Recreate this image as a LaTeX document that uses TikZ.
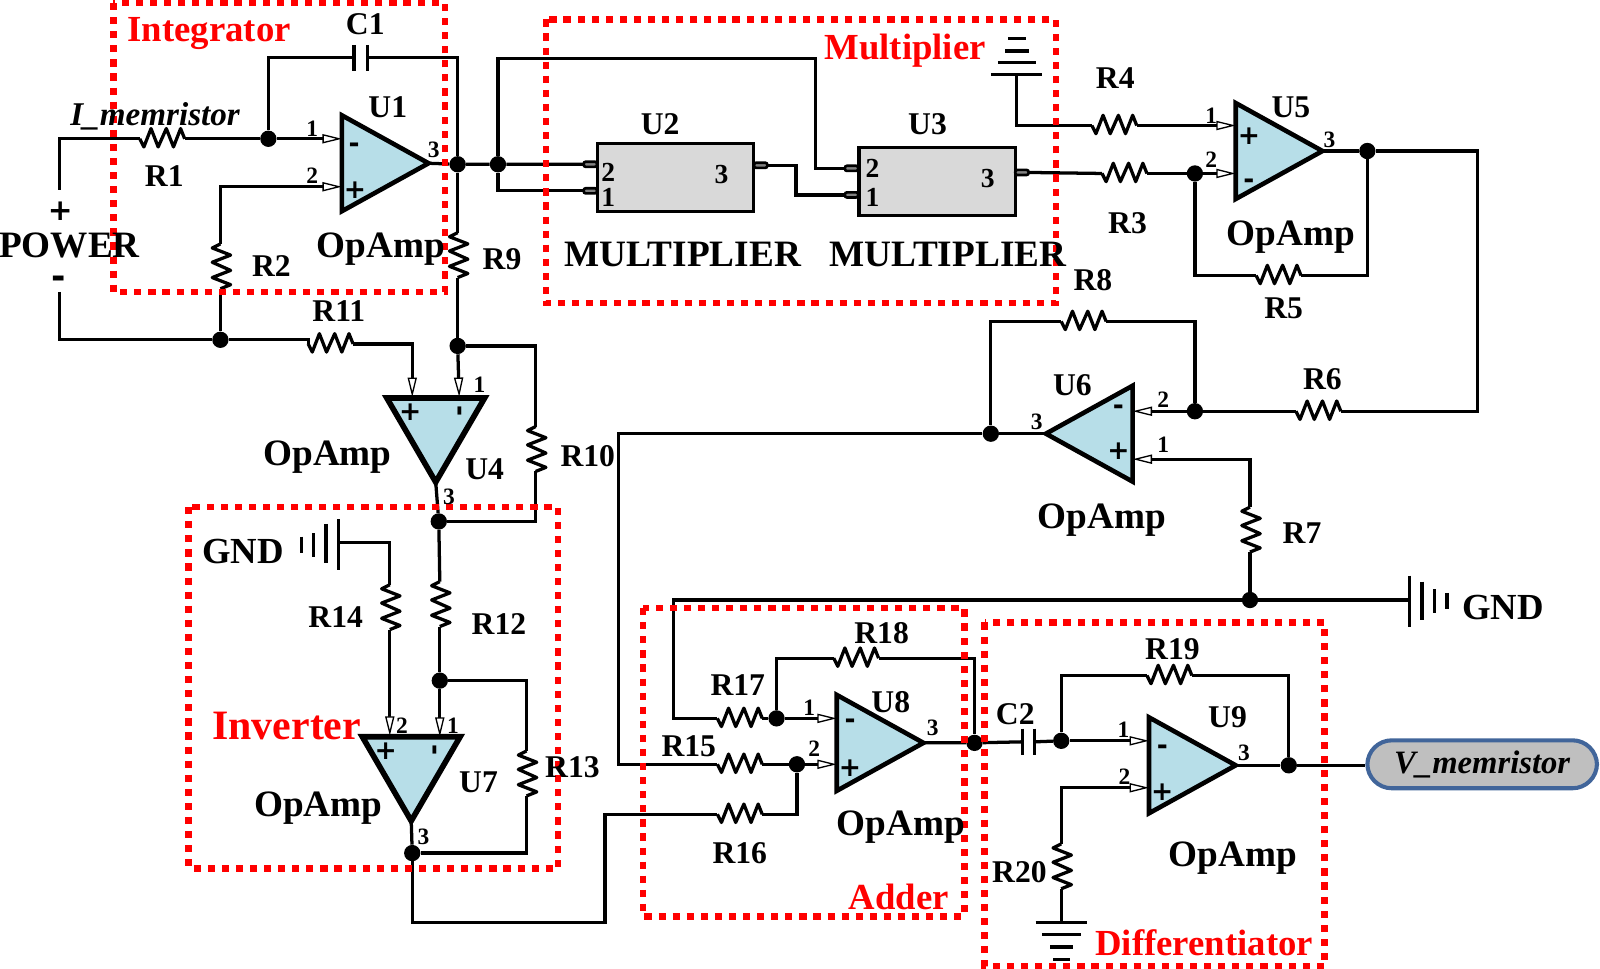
\documentclass[tikz,border=0pt]{standalone}
\usepackage{fontspec}
\setmainfont{Liberation Serif}
\newfontfamily\signfont{DejaVu Sans}
\usetikzlibrary{arrows.meta}
\definecolor{opfill}{HTML}{B7DEE8}
\definecolor{chipfill}{HTML}{D9D9D9}
\definecolor{pillfill}{HTML}{BFBFBF}
\definecolor{pillline}{HTML}{41659A}
\definecolor{redbox}{HTML}{FF0000}
\tikzset{
  x=1pt,y=-1pt,
  wire/.style={line width=3.2pt,line join=miter},
  arrwire/.style={wire,-{Triangle[open,fill=white,length=19pt,width=9pt,line width=1.3pt]}},
  dot/.style={circle,fill=black,inner sep=0pt,minimum size=16pt},
  lbl/.style={font=\bfseries\fontsize{31}{31}\selectfont,inner sep=0pt},
  oplbl/.style={font=\bfseries\fontsize{36.5}{36.5}\selectfont,inner sep=0pt},
  biglbl/.style={font=\bfseries\fontsize{36.5}{36.5}\selectfont,inner sep=0pt},
  pinlbl/.style={font=\bfseries\fontsize{23}{23}\selectfont,inner sep=0pt},
  chiplbl/.style={font=\bfseries\fontsize{27}{27}\selectfont,inner sep=0pt},
  redlbl/.style={font=\bfseries\fontsize{36}{36}\selectfont,inner sep=0pt,text=redbox},
  pluslbl/.style={font=\signfont\bfseries\fontsize{26}{26}\selectfont,inner sep=0pt},
  minuslbl/.style={font=\signfont\bfseries\fontsize{26}{26}\selectfont,inner sep=0pt},
  groupbox/.style={draw=redbox,line width=6.5pt,dash pattern=on 7pt off 6.8pt},
  chip/.style={draw=black,line width=3pt,fill=chipfill,inner sep=0pt},
  pinbox/.style={draw=black,line width=2.6pt,fill=chipfill!60!black,rounded corners=2pt},
  opn/.style={line width=4.5pt},
  opd/.style={line width=5.5pt,xscale=.97,yscale=1.02},
  resH/.pic={
    \coordinate (-l) at (-22,0);
    \coordinate (-r) at (22,0);
    \draw[wire,line join=round] (-l) -- (-18,8) -- (-11,-10) -- (-4,8) -- (4,-10) -- (11,8) -- (18,-10) -- (-r);
  },
  opamp/.pic={
    \coordinate (-a) at (0,-24);
    \coordinate (-b) at (0,24);
    \coordinate (-o) at (85,0);
    \draw[draw=black,fill=opfill,line join=miter] (0,-47) -- (85,0) -- (0,47) -- cycle;
  },
}
\begin{document}
\begin{tikzpicture}
\useasboundingbox (0,0) rectangle (1568,949.6);

% amplifiers
\pic[opn] (U1) at (335,160) {opamp};
\pic[opn] (U5) at (1211,148) {opamp};
\pic[opn,rotate=180] (U6) at (1110,425) {opamp};
\pic[rotate=-90,opd] (U4) at (427,390) {opamp};
\pic[rotate=-90,opd] (U7) at (403,722) {opamp};
\pic[opn] (U8) at (820,728) {opamp};
\pic[opn] (U9) at (1126,750) {opamp};

% resistors
\pic (R1) at (159,136) {resH};
\pic[rotate=-90] (R2) at (216,261) {resH};
\pic (R3) at (1102,170) {resH};
\pic (R4) at (1092,123) {resH};
\pic (R5) at (1253,270) {resH};
\pic (R6) at (1292,403) {resH};
\pic[rotate=-90] (R7) at (1225,519) {resH};
\pic (R8) at (1062,315) {resH};
\pic[rotate=-90] (R9) at (448.5,250) {resH};
\pic[rotate=-90] (R10) at (525,440) {resH};
\pic (R11) at (324,337) {resH};
\pic[rotate=-90] (R12) at (431,592) {resH};
\pic[rotate=-90] (R13) at (516,758) {resH};
\pic[rotate=-90] (R14) at (382,595) {resH};
\pic (R15) at (725,749) {resH};
\pic (R16) at (725,798) {resH};
\pic (R17) at (725,704) {resH};
\pic (R18) at (839,645) {resH};
\pic (R19) at (1146,662) {resH};
\pic[rotate=-90] (R20) at (1040,849) {resH};

% junctions
\node[dot] (j1) at (263,136) {};
\node[dot] (j2) at (448.5,161) {};
\node[dot] (j3) at (488,161) {};
\node[dot] (j4) at (216,333) {};
\node[dot] (j5) at (448.5,339) {};
\node[dot] (j6) at (430,511) {};
\node[dot] (j7) at (431,667) {};
\node[dot] (j8) at (404,836) {};
\node[dot] (j9) at (1171,170) {};
\node[dot] (j10) at (1340,148) {};
\node[dot] (j11) at (1171,403) {};
\node[dot] (j12) at (971,425) {};
\node[dot] (j13) at (1225,588) {};
\node[dot] (j14) at (761,704) {};
\node[dot] (j15) at (781,749) {};
\node[dot] (j16) at (955,728) {};
\node[dot] (j17) at (1040,726) {};
\node[dot] (j18) at (1263,750) {};

% multiplier chips
\node[chip,minimum width=153pt,minimum height=66pt] (U2box) at (662.3,174) {};
\node[chip,minimum width=153pt,minimum height=66pt] (U3box) at (918.3,178) {};
\coordinate (u2a) at (572,161);
\coordinate (u2b) at (572,187);
\coordinate (u2o) at (752,162);
\coordinate (u3a) at (828,165);
\coordinate (u3b) at (828,191);
\coordinate (u3o) at (1008,169);

% terminals
\coordinate (pwrp) at (58,186);
\coordinate (pwrm) at (58,286);
\coordinate (c1l) at (347,56);
\coordinate (c1r) at (360,56);
\coordinate (c2l) at (1002,727);
\coordinate (c2r) at (1014,727);
\coordinate (gt) at (996,73);
\coordinate (gr) at (1381,588);
\coordinate (gl) at (332,532);
\coordinate (gb) at (1040,904);
\node[draw=pillline,line width=4pt,fill=pillfill,rounded corners=24pt,minimum width=225pt,minimum height=47pt,inner sep=0pt,font=\bfseries\itshape\fontsize{32}{32}\selectfont] (vm) at (1452.5,749) {\raisebox{-3pt}{V\_memristor}};

% wires
\draw[wire] (pwrp) |- (R1-l);
\draw[wire] (R1-r) -- (j1);
\draw[arrwire] (j1) -- (335,136);
\draw[wire] (j1) |- (c1l);
\draw[wire] (c1r) -| (j2);
\draw[wire] (j2) -- (R9-l);
\draw[wire] (R9-r) -- (j5);
\draw[wire] (U1-o) -- (j2) -- (j3) -- (u2a);
\draw[wire] (j3) |- (u2b);
\draw[wire] (j3) |- (799,57.5) |- (u3a);
\draw[wire] (u2o) -| (780,175) |- (u3b);
\draw[wire] (u3o) -- (R3-l);
\draw[wire] (R3-r) -- (j9);
\draw[arrwire] (j9) -- (1211,170);
\draw[wire] (gt) |- (R4-l);
\draw[arrwire] (R4-r) -- (1211,123);
\draw[wire] (j9) |- (R5-l);
\draw[wire] (R5-r) -| (j10);
\draw[wire] (U5-o) -- (j10) -| (1448,300) |- (R6-r);
\draw[wire] (R6-l) -- (j11);
\draw[arrwire] (j11) -- (1110,403);
\draw[wire] (j11) |- (R8-r);
\draw[wire] (R8-l) -| (j12);
\draw[wire] (U6-o) -- (j12) -- (606,425) |- (R15-l);
\draw[wire] (R15-r) -- (j15);
\draw[arrwire] (j15) -- (820,749);
\draw[arrwire] (R7-l) |- (1110,450);
\draw[wire] (R7-r) -- (j13);
\draw[wire] (gr) -- (j13) -- (660,588) |- (R17-l);
\draw[wire] (R17-r) -- (j14);
\draw[arrwire] (j14) -- (820,704);
\draw[wire] (j14) |- (R18-l);
\draw[wire] (R18-r) -| (j16);
\draw[wire] (U8-o) -- (j16) -- (c2l);
\draw[wire] (c2r) -- (j17);
\draw[arrwire] (j17) -- (1126,726);
\draw[wire] (j17) |- (R19-l);
\draw[wire] (R19-r) -| (j18);
\draw[wire] (U9-o) -- (j18) -- (vm.west |- j18);
\draw[arrwire] (R20-l) |- (1126,772);
\draw[wire] (R20-r) -- (gb);
\draw[wire] (j15) |- (R16-r);
\draw[wire] (R16-l) -| (593,904) -| (j8);
\draw[wire] (U7-o) -- (j8);
\draw[wire] (j8) -| (R13-r);
\draw[wire] (R13-l) |- (j7);
\draw[wire] (j6) -- (R12-l);
\draw[wire] (R12-r) -- (j7);
\draw[arrwire] (j7) -- (431,722);
\draw[wire] (U4-o) -- (j6);
\draw[wire] (j6) -| (R10-r);
\draw[wire] (R10-l) |- (j5);
\draw[arrwire] (j5) -- (450,389);
\draw[wire] (pwrm) |- (j4);
\draw[wire] (j4) -- (R2-r);
\draw[arrwire] (R2-l) |- (335,183);
\draw[wire] (j4) -- (302,333) -- (R11-l);
\draw[arrwire] (R11-r) -| (404,389);
\draw[wire] (gl) -| (R14-l);
\draw[arrwire] (R14-r) -- (382,721);

% pins of chips
\draw[pinbox] (572,158.5) rectangle (585,163.5);
\draw[pinbox] (572,184.5) rectangle (585,189.5);
\draw[pinbox] (739,159.5) rectangle (752,164.5);
\draw[pinbox] (828,162.5) rectangle (841,167.5);
\draw[pinbox] (828,188.5) rectangle (841,193.5);
\draw[pinbox] (995,166.5) rectangle (1008,171.5);

% capacitors and grounds
\draw[wire,line width=3.5pt] (347,44) -- (347,70) (360,44) -- (360,70);
\draw[wire,line width=3.5pt] (1002,714) -- (1002,740) (1014,714) -- (1014,740);
\draw[wire] (971,73) -- (1021,73) (978,61.5) -- (1015,61.5) (985,50) -- (1008,50) (988,38) -- (1005,38);
\draw[wire] (1381,564) -- (1381,614) (1393.5,570) -- (1393.5,608) (1406,577.5) -- (1406,600.5) (1418,581) -- (1418,597);
\draw[wire] (332,509) -- (332,559) (319.5,513.5) -- (319.5,551.5) (307.5,522.5) -- (307.5,545.5) (295.5,526) -- (295.5,542);
\draw[wire] (1015,904) -- (1065,904) (1021,916) -- (1059,916) (1029,928) -- (1052,928) (1032,940) -- (1049,940);

% group boxes
\draw[groupbox] (111,3) rectangle (436,286);
\draw[groupbox] (535,19) rectangle (1035,297);
\draw[groupbox] (185,497) rectangle (547,851);
\draw[groupbox] (630,596) rectangle (945,898);
\draw[groupbox] (965,610) rectangle (1298,947);

% labels
\node[redlbl] (tInt) at (205,33) {Integrator};
\node[redlbl] (tMul) at (887,50) {Multiplier};
\node[redlbl,font=\bfseries\fontsize{41}{41}\selectfont] (tInv) at (281,711) {Inverter};
\node[redlbl] (tAdd) at (881,879) {Adder};
\node[redlbl] (tDif) at (1180,924) {Differentiator};

\node[lbl,font=\bfseries\itshape\fontsize{32.5}{32.5}\selectfont] (tIm) at (152,114) {I\_memristor};
\node[lbl] (tR1) at (161,173) {R1};
\node[lbl] (tR2) at (266,261) {R2};
\node[lbl] (tR3) at (1105,219) {R3};
\node[lbl] (tR4) at (1093,77) {R4};
\node[lbl] (tR5) at (1258,302) {R5};
\node[lbl] (tR6) at (1296,372) {R6};
\node[lbl] (tR7) at (1276,522) {R7};
\node[lbl] (tR8) at (1071,275) {R8};
\node[lbl] (tR9) at (492,254) {R9};
\node[lbl] (tR10) at (576,447) {R10};
\node[lbl] (tR11) at (332,305) {R11};
\node[lbl] (tR12) at (489,612) {R12};
\node[lbl] (tR13) at (561,752) {R13};
\node[lbl] (tR14) at (329,605) {R14};
\node[lbl] (tR15) at (675,731) {R15};
\node[lbl] (tR16) at (725,836) {R16};
\node[lbl] (tR17) at (723,671) {R17};
\node[lbl] (tR18) at (864,620) {R18};
\node[lbl] (tR19) at (1149,636) {R19};
\node[lbl] (tR20) at (999,855) {R20};
\node[lbl] (tC1) at (358,24) {C1};
\node[lbl] (tC2) at (995,700) {C2};
\node[lbl] (tU1) at (380,105) {U1};
\node[lbl] (tU2) at (647,122) {U2};
\node[lbl] (tU3) at (909,122) {U3};
\node[lbl] (tU4) at (475,460) {U4};
\node[lbl] (tU5) at (1265,105) {U5};
\node[lbl] (tU6) at (1051,377) {U6};
\node[lbl] (tU7) at (469,767) {U7};
\node[lbl] (tU8) at (873,688) {U8};
\node[lbl] (tU9) at (1203,703) {U9};
\node[biglbl] (tPow) at (68,241) {POWER};
\node[pluslbl,font=\signfont\bfseries\fontsize{29}{29}\selectfont] (tPp) at (59,207) {+};
\node[minuslbl,font=\signfont\bfseries\fontsize{34}{34}\selectfont] (tPm) at (58,277) {-};
\node[oplbl] (o1) at (373,244) {OpAmp};
\node[oplbl] (o4) at (321,448) {OpAmp};
\node[oplbl] (o5) at (1265,232) {OpAmp};
\node[oplbl] (o6) at (1080,510) {OpAmp};
\node[oplbl] (o7) at (312,792) {OpAmp};
\node[oplbl] (o8) at (883,811) {OpAmp};
\node[oplbl] (o9) at (1208,841) {OpAmp};
\node[biglbl] (m1) at (669,249) {MULTIPLIER};
\node[biglbl] (m2) at (929,249) {MULTIPLIER};
\node[biglbl,font=\bfseries\fontsize{36}{36}\selectfont] (g1) at (238,540) {GND};
\node[biglbl,font=\bfseries\fontsize{36}{36}\selectfont] (g2) at (1473,595) {GND};

% pin numbers
\foreach \n/\t/\px/\py in {a1/1/306/126,a2/2/306/172,a3/3/425/147,
  d1/1/1187/113,d2/2/1187/157,d3/3/1303/137,e1/2/1140/392,e2/1/1140/436,e3/3/1016/413,
  f1/1/470/377,f3/3/440/487,g1x/2/394/711,g2x/1/444/711,g3/3/415/820,
  h1/1/793/694,h2/2/798/734,h3/3/914/713,i1/1/1101/715,i2/2/1102/761,i3/3/1219/738}
  \node[pinlbl] (p\n) at (\px,\py) {\t};
\foreach \n/\t/\px/\py in {b1/2/596/169,b2/1/596/193,b3/3/707/171,c1/2/855/165,c2/1/855/193,c3/3/968/175}
  \node[chiplbl] (p\n) at (\px,\py) {\t};
% signs inside amplifiers
\foreach \n/\px/\py in {b/348/186,c/1224/133,f/1096/442,g/402/404,i/378/736,l/833/753,n/1139/776}
  \node[pluslbl] (s\n) at (\px,\py) {+};
\foreach \n/\px/\py in {a/347/145,d/1224/180,e/1096/402,k/833/709,m/1139/735}
  \node[minuslbl] (s\n) at (\px,\py) {-};
\foreach \n/\px/\py in {h/453/403,j/429/735}
  \node[minuslbl,rotate=90] (s\n) at (\px,\py) {-};
\end{tikzpicture}
\end{document}
